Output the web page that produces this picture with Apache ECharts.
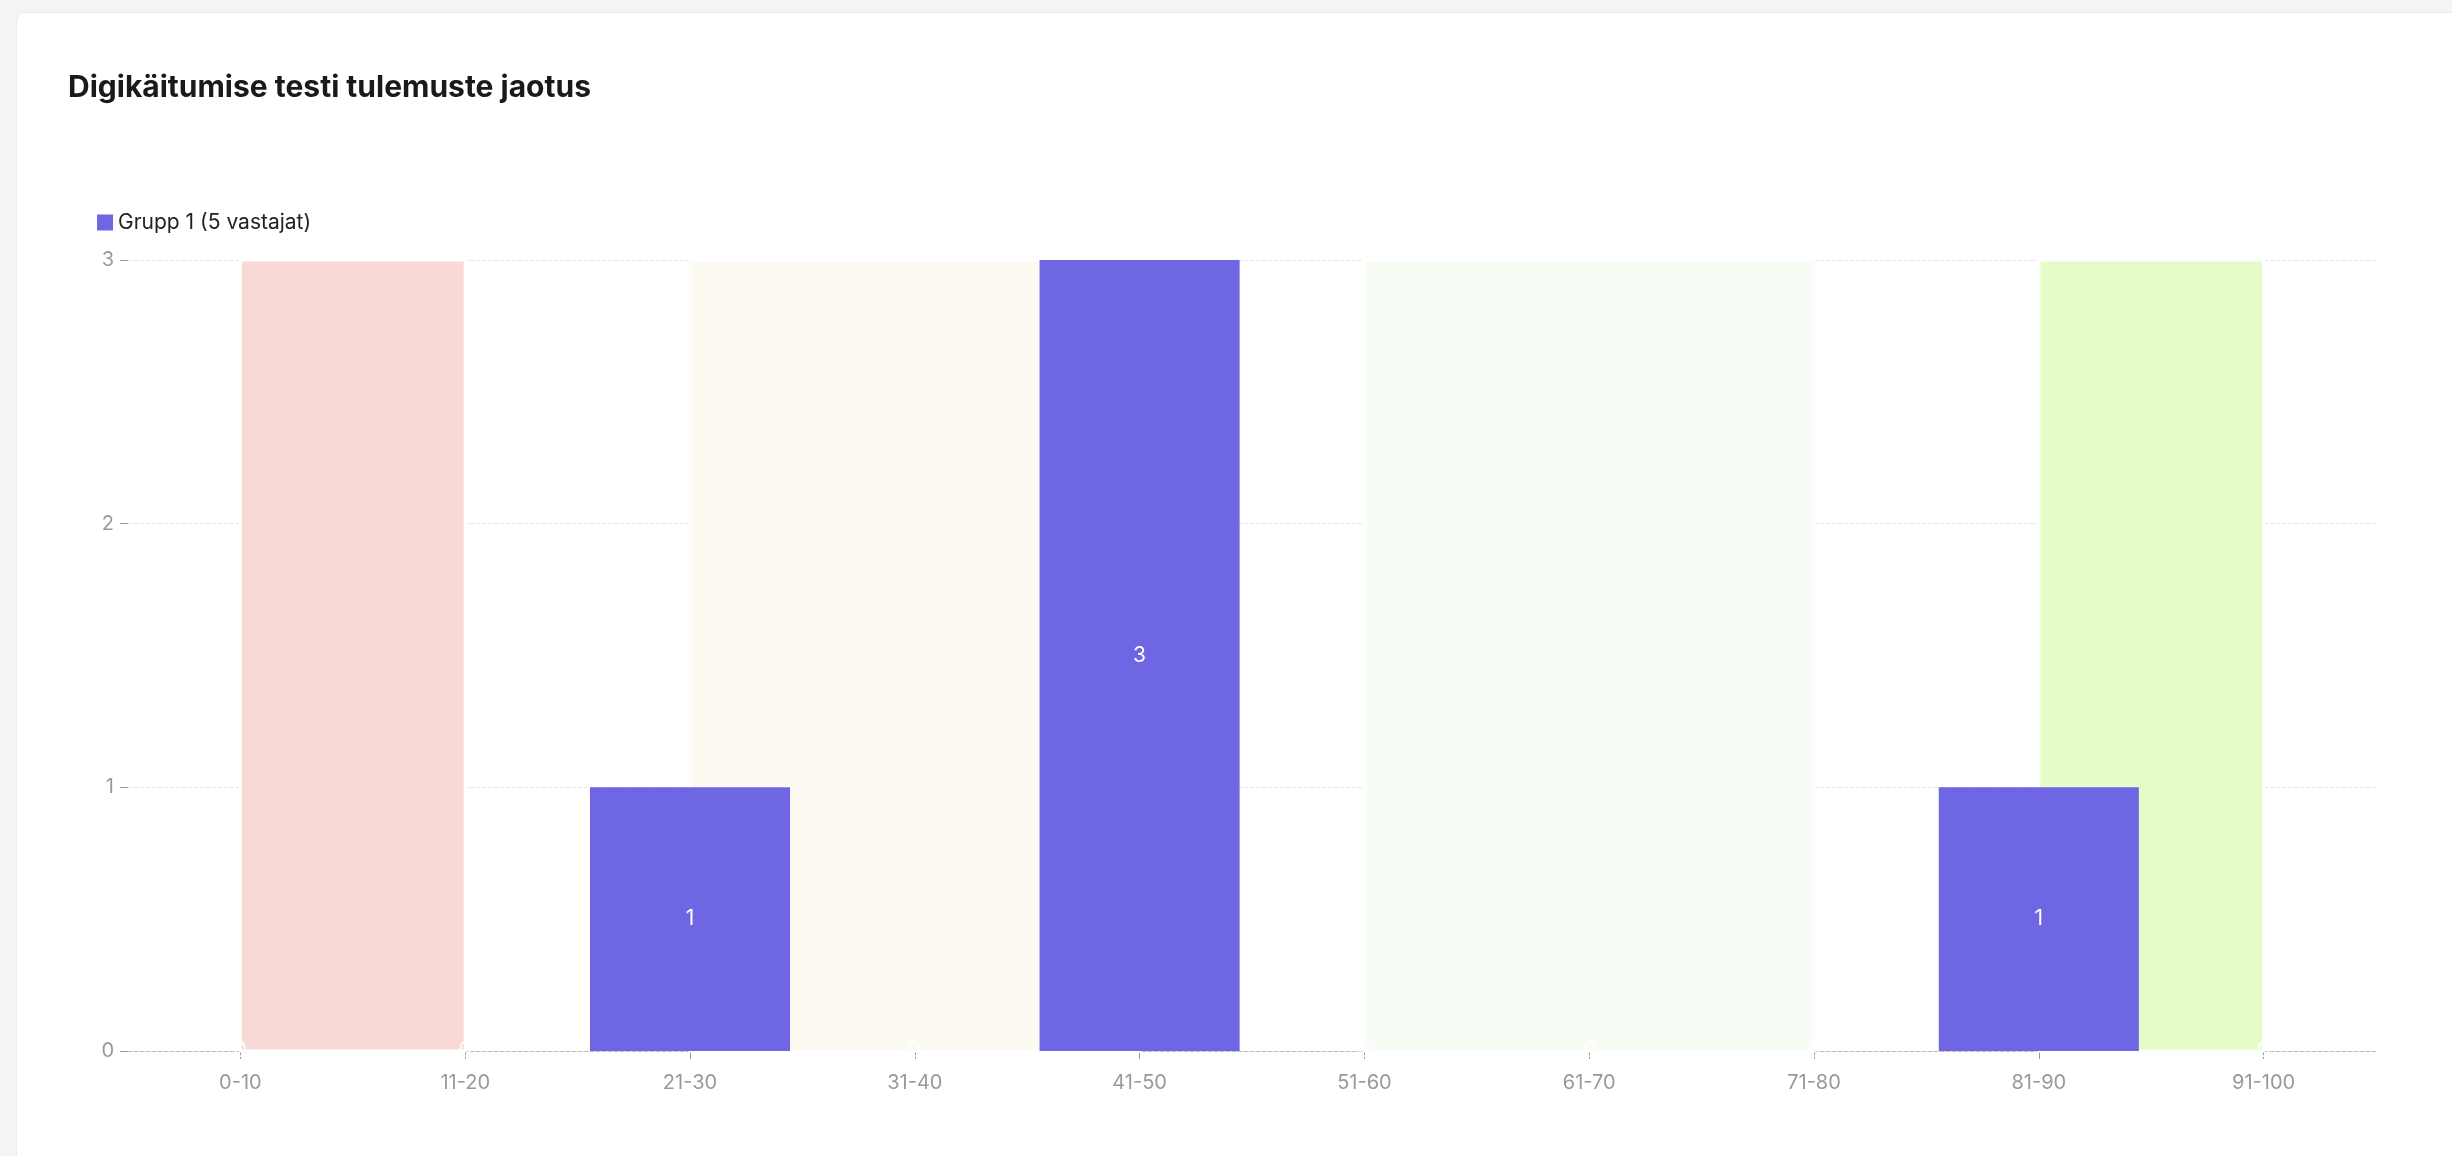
<!DOCTYPE html>
<html lang="en">
  <head>
    <meta charset="UTF-8">
    <title>Digikäitumise testi tulemuste jaotus</title>
    <style>
      html, body { margin: 0; padding: 0; background: #f4f4f5; }
      .card {
        position: absolute; left: 16px; top: 12px; width: 2460px; height: 1160px;
        background: #fff; border-radius: 10px; border: 1px solid #ececec;
      }
      .chart { position: absolute; left: 0; top: 0; width: 2452px; height: 1156px; }
    </style>
  </head>
  <body>
    <div class="card"></div>
    <div id="chart" class="chart"></div>
    <script src="https://cdn.jsdelivr.net/npm/echarts@6/dist/echarts.min.js"></script>
    <script type="text/javascript">
      var categories = ['0-10', '11-20', '21-30', '31-40', '41-50', '51-60', '61-70', '71-80', '81-90', '91-100'];
      var groupValues = [0, 0, 1, 0, 3, 0, 0, 0, 1, 0];
      var seriesName = 'Grupp 1 (5 vastajat)';
      // score bands (first category, last category, colour)
      var bands = [
        ['0-10', '11-20', '#f8d9d6'],
        ['21-30', '41-50', '#fdfaf2'],
        ['51-60', '71-80', '#f7fcf5'],
        ['81-90', '91-100', '#e5fcc8']
      ];

      var myChart = echarts.init(document.getElementById('chart'));

      var option = {
        backgroundColor: 'transparent',
        title: {
          text: 'Digikäitumise testi tulemuste jaotus',
          left: 63,
          top: 68,
          textStyle: { color: '#1a1a1a', fontSize: 30, fontWeight: 'bold', fontFamily: 'Inter' }
        },
        legend: {
          left: 92,
          top: 207,
          icon: 'rect',
          itemWidth: 16,
          itemHeight: 16,
          itemGap: 20,
          textStyle: { color: '#222', fontSize: 21, fontFamily: 'Inter' },
          data: [seriesName]
        },
        grid: { left: 128, right: 76, top: 260, bottom: 105 },
        xAxis: {
          type: 'category',
          data: categories,
          axisLine: { show: true, lineStyle: { color: '#bbb', type: 'dashed' } },
          axisTick: { show: true, alignWithLabel: true, length: 8, lineStyle: { color: '#999' } },
          axisLabel: { color: '#999', fontSize: 20, margin: 22, fontFamily: 'Inter' },
          splitLine: { show: false }
        },
        yAxis: {
          type: 'value',
          min: 0,
          max: 3,
          interval: 1,
          axisLine: { show: false },
          axisTick: { show: true, length: 8, lineStyle: { color: '#999' } },
          axisLabel: { color: '#999', fontSize: 20, margin: 14, fontFamily: 'Inter' },
          splitLine: { show: true, lineStyle: { color: '#e6e6e6', type: 'dashed' } }
        },
        series: [{
          name: seriesName,
          type: 'bar',
          barWidth: '89%',
          itemStyle: { color: '#6e66e2' },
          label: { show: true, position: 'inside', color: '#fff', fontSize: 21, fontFamily: 'Inter' },
          markArea: {
            silent: true,
            data: bands.map(function (b) {
              return [
                { xAxis: b[0], itemStyle: { color: b[2], borderColor: '#fff', borderWidth: 3 } },
                { xAxis: b[1] }
              ];
            })
          },
          data: groupValues
        }]
      };

      myChart.setOption(option);
    </script>
  </body>
</html>
